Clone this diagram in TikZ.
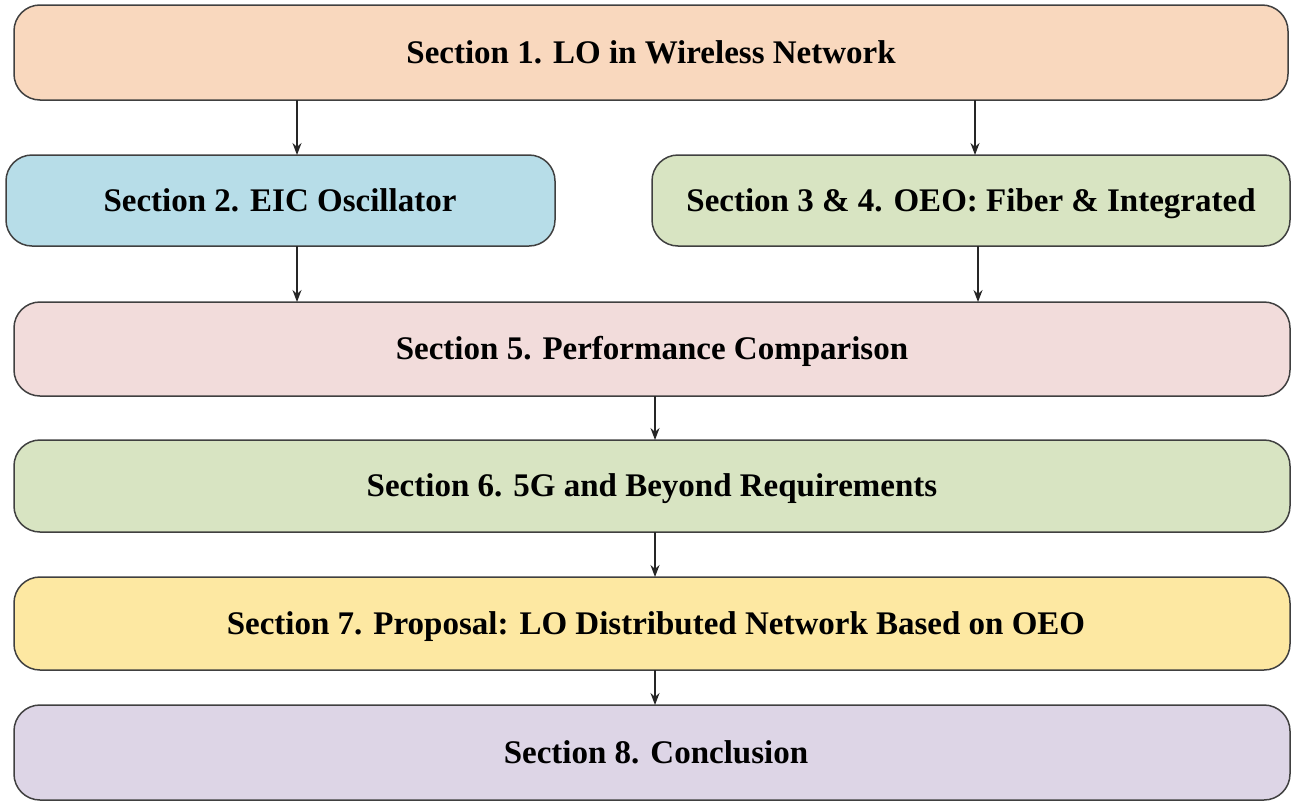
\documentclass[tikz,border=0pt]{standalone}
\usepackage{fontspec}
\setmainfont{Liberation Serif}
\usetikzlibrary{arrows.meta}
\definecolor{cpeach}{HTML}{F9D8BE}
\definecolor{cblue}{HTML}{B7DDE8}
\definecolor{cgreen}{HTML}{D8E4C2}
\definecolor{cpink}{HTML}{F2DCDB}
\definecolor{cyellow}{HTML}{FDE8A2}
\definecolor{clav}{HTML}{DDD5E6}
\tikzset{
 sbox/.style={draw=black!75,line width=1.5pt,rounded corners=26pt},
 lbl/.style={font=\fontsize{33}{36}\selectfont\bfseries,inner sep=0pt,text height=22pt,text depth=6pt},
 arr/.style={-{Stealth[length=12pt,width=9pt]},line width=1.5pt,black!85}
}
\begin{document}
\begin{tikzpicture}[x=1pt,y=-1pt]
\useasboundingbox (0,0) rectangle (1300,806);
\draw[sbox,fill=cpeach] (14,5) rectangle (1288,100);
\node[lbl] (s1) at (651,55) {Section 1. LO in Wireless Network};
\draw[sbox,fill=cblue] (6,155) rectangle (555,246);
\node[lbl] (s2) at (280,203) {Section 2. EIC Oscillator};
\draw[sbox,fill=cgreen] (652,155) rectangle (1290,246);
\node[lbl] (s3) at (971,203) {Section 3 \& 4. OEO: Fiber \& Integrated};
\draw[sbox,fill=cpink] (14,302) rectangle (1290,396);
\node[lbl] (s5) at (652,351) {Section 5. Performance Comparison};
\draw[sbox,fill=cgreen] (14,440) rectangle (1290,532);
\node[lbl] (s6) at (652,488) {Section 6. 5G and Beyond Requirements};
\draw[sbox,fill=cyellow] (14,577) rectangle (1290,670);
\node[lbl] (s7) at (656,626) {Section 7. Proposal: LO Distributed Network Based on OEO};
\draw[sbox,fill=clav] (14,705) rectangle (1290,800);
\node[lbl] (s8) at (656,755) {Section 8. Conclusion};
\coordinate (a1) at (297,100); \coordinate (a2) at (297,155);
\coordinate (b1) at (975,100); \coordinate (b2) at (975,155);
\coordinate (c1) at (297,246); \coordinate (c2) at (297,302);
\coordinate (d1) at (978,246); \coordinate (d2) at (978,302);
\coordinate (e1) at (655,396); \coordinate (e2) at (655,440);
\coordinate (f1) at (655,532); \coordinate (f2) at (655,577);
\coordinate (g1) at (655,670); \coordinate (g2) at (655,705);
\foreach \p/\q in {a1/a2,b1/b2,c1/c2,d1/d2,e1/e2,f1/f2,g1/g2} \draw[arr] (\p) -- (\q);
\end{tikzpicture}
\end{document}
